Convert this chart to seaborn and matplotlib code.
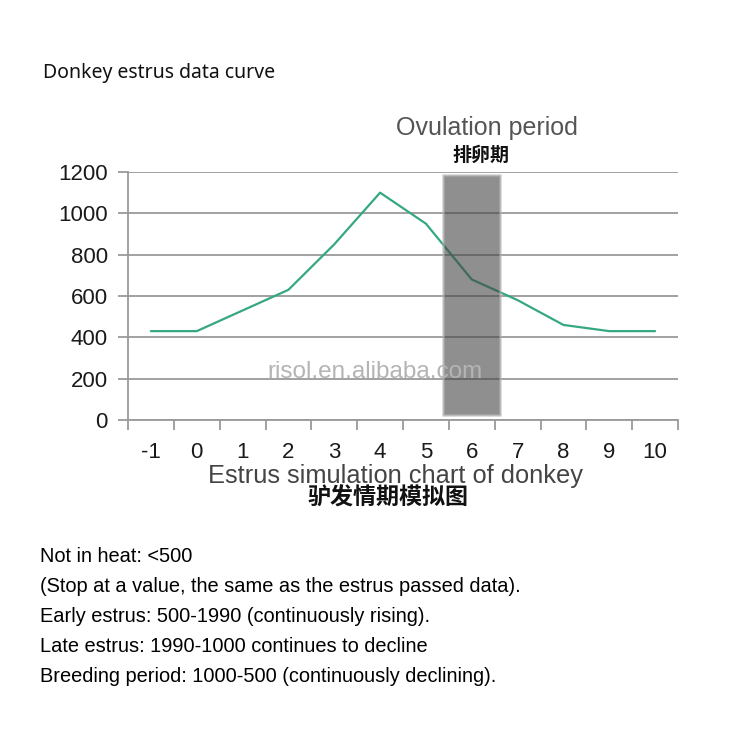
import matplotlib
matplotlib.use("Agg")
import matplotlib.pyplot as plt
import seaborn as sns
import numpy as np
import pandas as pd

# ---- data ----
days = [-1, 0, 1, 2, 3, 4, 5, 6, 7, 8, 9, 10]
values = [430, 430, 530, 630, 850, 1100, 950, 680, 580, 460, 430, 430]
y_ticks = [0, 200, 400, 600, 800, 1000, 1200]
ovulation_center = 6.0
ovulation_width = 1.25
ovulation_bottom = 23
ovulation_top = 1187

title = "Donkey estrus data curve"
band_label_en = "Ovulation period"
band_label_cn = "排卵期"
xlabel_en = "Estrus simulation chart of donkey"
xlabel_cn = "驴发情期模拟图"
watermark = "risol.en.alibaba.com"
notes = [
    "Not in heat: <500",
    "(Stop at a value, the same as the estrus passed data).",
    "Early estrus: 500-1990 (continuously rising).",
    "Late estrus: 1990-1000 continues to decline",
    "Breeding period: 1000-500 (continuously declining).",
]

sns.set_theme(style="white")
plt.rcParams["font.family"] = ["Liberation Sans", "DejaVu Sans", "Noto Sans CJK SC"]

W, H = 750, 743
fig = plt.figure(figsize=(W / 100, H / 100), dpi=100)

def fx(px):
    return px / W

def fy(py):
    return 1 - py / H

ax = fig.add_axes([fx(128), fy(420), fx(678) - fx(128), fy(172) - fy(420)])

df = pd.DataFrame({"day": days, "value": values})

ax.set_xlim(days[0] - 0.5, days[-1] + 0.5)
ax.set_ylim(y_ticks[0], y_ticks[-1])

# gridlines
ax.set_yticks(y_ticks)
ax.yaxis.grid(True, color="#9a9a9a", linewidth=1.3)
ax.xaxis.grid(False)
ax.set_axisbelow(True)

sns.lineplot(data=df, x="day", y="value", ax=ax, color="#35a882",
             linewidth=1.6, zorder=3)

# ovulation band
ax.bar([ovulation_center], [ovulation_top - ovulation_bottom],
       bottom=ovulation_bottom, width=ovulation_width,
       color="#444444", alpha=0.6, edgecolor="#b5b5b5", linewidth=1.8,
       zorder=4)

# ticks
ax.set_xticks(days)
ax.set_xticklabels([str(d) for d in days])
ax.set_xticks(np.arange(days[0] - 0.5, days[-1] + 0.51, 1.0), minor=True)
ax.tick_params(axis="x", which="major", length=0, pad=16, labelsize=16,
               labelcolor="#1a1a1a")
ax.tick_params(axis="x", which="minor", length=7.5, width=1.3,
               color="#9a9a9a", direction="out", bottom=True)
ax.tick_params(axis="y", which="major", length=7.5, width=1.3,
               color="#9a9a9a", direction="out", left=True, pad=7,
               labelsize=16, labelcolor="#1a1a1a")
ax.set_yticklabels([str(v) for v in y_ticks])

for s in ["top", "right"]:
    ax.spines[s].set_visible(False)
ax.spines["left"].set_color("#9a9a9a")
ax.spines["left"].set_linewidth(1.3)
ax.spines["bottom"].set_color("#9a9a9a")
ax.spines["bottom"].set_linewidth(1.3)
ax.set_xlabel("")
ax.set_ylabel("")

# watermark
ax.text(0.449, 0.194, watermark, transform=ax.transAxes, ha="center",
        va="center", fontsize=17.5, color="#b4b4b4",
        family=["Liberation Sans Narrow", "Liberation Sans"], zorder=5)

# texts
fig.text(fx(43), fy(73), title, ha="left", va="center", fontsize=14,
         family=["Noto Sans", "DejaVu Sans"], color="#111111")
fig.text(fx(487), fy(128), band_label_en, ha="center", va="center",
         fontsize=18, family=["Liberation Sans", "DejaVu Sans"],
         color="#555555")
fig.text(fx(481), fy(155), band_label_cn, ha="center", va="center",
         fontsize=13.7, fontweight="bold",
         family=["Noto Sans CJK SC", "DejaVu Sans"], color="#111111")
fig.text(fx(396), fy(476), xlabel_en, ha="center", va="center",
         fontsize=18.3, family=["Liberation Sans", "DejaVu Sans"],
         color="#444444")
fig.text(fx(388), fy(498), xlabel_cn, ha="center", va="center",
         fontsize=16.6, fontweight="bold",
         family=["Noto Sans CJK SC", "DejaVu Sans"], color="#111111")

note_y = [557, 586, 616, 646, 676]
for t, yy in zip(notes, note_y):
    fig.text(fx(40), fy(yy), t, ha="left", va="center", fontsize=14.4,
             family=["Liberation Sans", "DejaVu Sans"], color="#000000")

fig.savefig("out.png", dpi=100, facecolor="white")
